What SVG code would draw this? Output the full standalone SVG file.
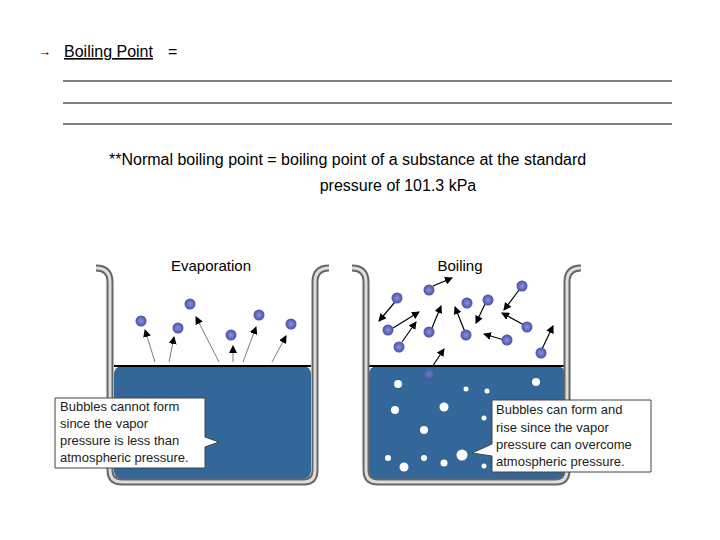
<svg xmlns="http://www.w3.org/2000/svg" width="720" height="540" viewBox="0 0 720 540">
<defs>
<marker id="ah" markerWidth="8" markerHeight="8" refX="7" refY="4" orient="auto" markerUnits="userSpaceOnUse"><path d="M0,0 L8,4 L0,8 Z" fill="#000"/></marker>
<radialGradient id="mol"><stop offset="0" stop-color="#8a92e0"/><stop offset="1" stop-color="#4a52a8"/></radialGradient>
<style>
.t{font-family:"Liberation Sans",Arial,sans-serif;fill:#000}
.wall{fill:none;stroke:#666;stroke-width:7;stroke-linejoin:round}
.wall2{fill:none;stroke:#ddd;stroke-width:3;stroke-linejoin:round}
.ar{stroke:#000;stroke-width:1.2;marker-end:url(#ah)}
.ar2{stroke:#8a7a6a;stroke-width:1;marker-end:url(#ah)}
.bub{fill:#fff}
.box{fill:#fff;stroke:#444;stroke-width:1}
.lbl{font-family:"Liberation Sans",Arial,sans-serif;font-size:13px;fill:#222}
</style>
</defs>
<g id="header">
<text class="t" x="38" y="56" font-size="13" fill="#39a">→</text>
<text class="t" x="64" y="57" font-size="16" text-decoration="underline">Boiling Point </text>
<text class="t" x="168" y="57" font-size="16">=</text>
<line x1="63" y1="81" x2="672" y2="81" stroke="#000"/>
<line x1="63" y1="103" x2="672" y2="103" stroke="#000"/>
<line x1="63" y1="124" x2="672" y2="124" stroke="#000"/>
<text class="t" x="109" y="165" font-size="16">**Normal boiling point = boiling point of a substance at the standard</text>
<text class="t" x="398" y="191" font-size="16" text-anchor="middle">pressure of 101.3 kPa</text>
</g>
<g id="evaporation">
<text class="t" x="211" y="271" font-size="15" text-anchor="middle" fill="#333">Evaporation</text>
<rect x="114" y="366" width="197" height="113" rx="8" fill="#336699"/>
<line x1="114" y1="366" x2="311" y2="366" stroke="#000" stroke-width="2"/>
<path class="wall" d="M96,268 Q110,268 110,282 V470 Q110,482 122,482 H304 Q315,482 315,470 V282 Q315,268 329,268"/>
<path class="wall2" d="M96,268 Q110,268 110,282 V470 Q110,482 122,482 H304 Q315,482 315,470 V282 Q315,268 329,268"/>
<g class="ar2"><line x1="155" y1="362" x2="145" y2="330"/><line x1="169" y1="362" x2="174" y2="337"/><line x1="219" y1="362" x2="196" y2="317"/><line x1="233" y1="362" x2="233" y2="346"/><line x1="243" y1="362" x2="256" y2="327"/><line x1="272" y1="362" x2="286" y2="336"/></g>
<g fill="url(#mol)"><circle cx="141" cy="321" r="5.5"/><circle cx="178" cy="328" r="5.5"/><circle cx="190" cy="304" r="5.5"/><circle cx="231" cy="335" r="5.5"/><circle cx="259" cy="315" r="5.5"/><circle cx="291" cy="324" r="5.5"/></g>
<path class="box" d="M55,398 H205 V437 L219,442 L205,447 V468 H55 Z"/>
<text class="lbl"><tspan x="60" y="411">Bubbles cannot form</tspan><tspan x="60" y="428">since the vapor</tspan><tspan x="60" y="445">pressure is less than</tspan><tspan x="60" y="462">atmospheric pressure.</tspan></text>
</g>
<g id="boiling">
<text class="t" x="460" y="271" font-size="15" text-anchor="middle" fill="#333">Boiling</text>
<rect x="369" y="366" width="196" height="113" rx="8" fill="#336699"/>
<line x1="369" y1="366" x2="565" y2="366" stroke="#000" stroke-width="2"/>
<path class="wall" d="M352,268 Q366,268 366,282 V470 Q366,482 378,482 H556 Q567,482 567,470 V282 Q567,268 581,268"/>
<path class="wall2" d="M352,268 Q366,268 366,282 V470 Q366,482 378,482 H556 Q567,482 567,470 V282 Q567,268 581,268"/>
<g class="ar"><line x1="395" y1="302" x2="379" y2="321"/><line x1="393" y1="328" x2="419" y2="312"/><line x1="402" y1="342" x2="416" y2="322"/><line x1="433" y1="286" x2="452" y2="278"/><line x1="432" y1="328" x2="441" y2="306"/><line x1="465" y1="332" x2="455" y2="307"/><line x1="485" y1="304" x2="476" y2="323"/><line x1="519" y1="290" x2="504" y2="310"/><line x1="524" y1="325" x2="502" y2="313"/><line x1="504" y1="340" x2="484" y2="334"/><line x1="542" y1="349" x2="553" y2="326"/><line x1="432" y1="367" x2="444" y2="349"/></g>
<g fill="url(#mol)"><circle cx="397" cy="298" r="5.5"/><circle cx="388" cy="330" r="5.5"/><circle cx="399" cy="347" r="5.5"/><circle cx="429" cy="290" r="5.5"/><circle cx="429" cy="332" r="5.5"/><circle cx="467" cy="303" r="5.5"/><circle cx="466" cy="335" r="5.5"/><circle cx="488" cy="300" r="5.5"/><circle cx="522" cy="286" r="5.5"/><circle cx="527" cy="327" r="5.5"/><circle cx="507" cy="340" r="5.5"/><circle cx="541" cy="353" r="5.5"/><circle cx="429" cy="374" r="5.5" opacity="0.6"/></g>
<g class="bub"><circle cx="398" cy="384" r="4"/><circle cx="395" cy="410" r="4"/><circle cx="424" cy="430" r="4"/><circle cx="444" cy="407" r="4.5"/><circle cx="466" cy="389" r="2.5"/><circle cx="487" cy="391" r="2.5"/><circle cx="536" cy="382" r="4"/><circle cx="484" cy="418" r="2.5"/><circle cx="388" cy="458" r="3"/><circle cx="404" cy="467" r="4.5"/><circle cx="424" cy="458" r="3"/><circle cx="444" cy="463" r="3.5"/><circle cx="462" cy="455" r="5.5"/><circle cx="484" cy="466" r="2.5"/></g>
<path class="box" d="M492,400 H651 V472 H492 V456 L472,453 L492,444 Z"/>
<text class="lbl"><tspan x="496" y="414">Bubbles can form and</tspan><tspan x="496" y="432">rise since the vapor</tspan><tspan x="496" y="449">pressure can overcome</tspan><tspan x="496" y="466">atmospheric pressure.</tspan></text>
</g>
</svg>
